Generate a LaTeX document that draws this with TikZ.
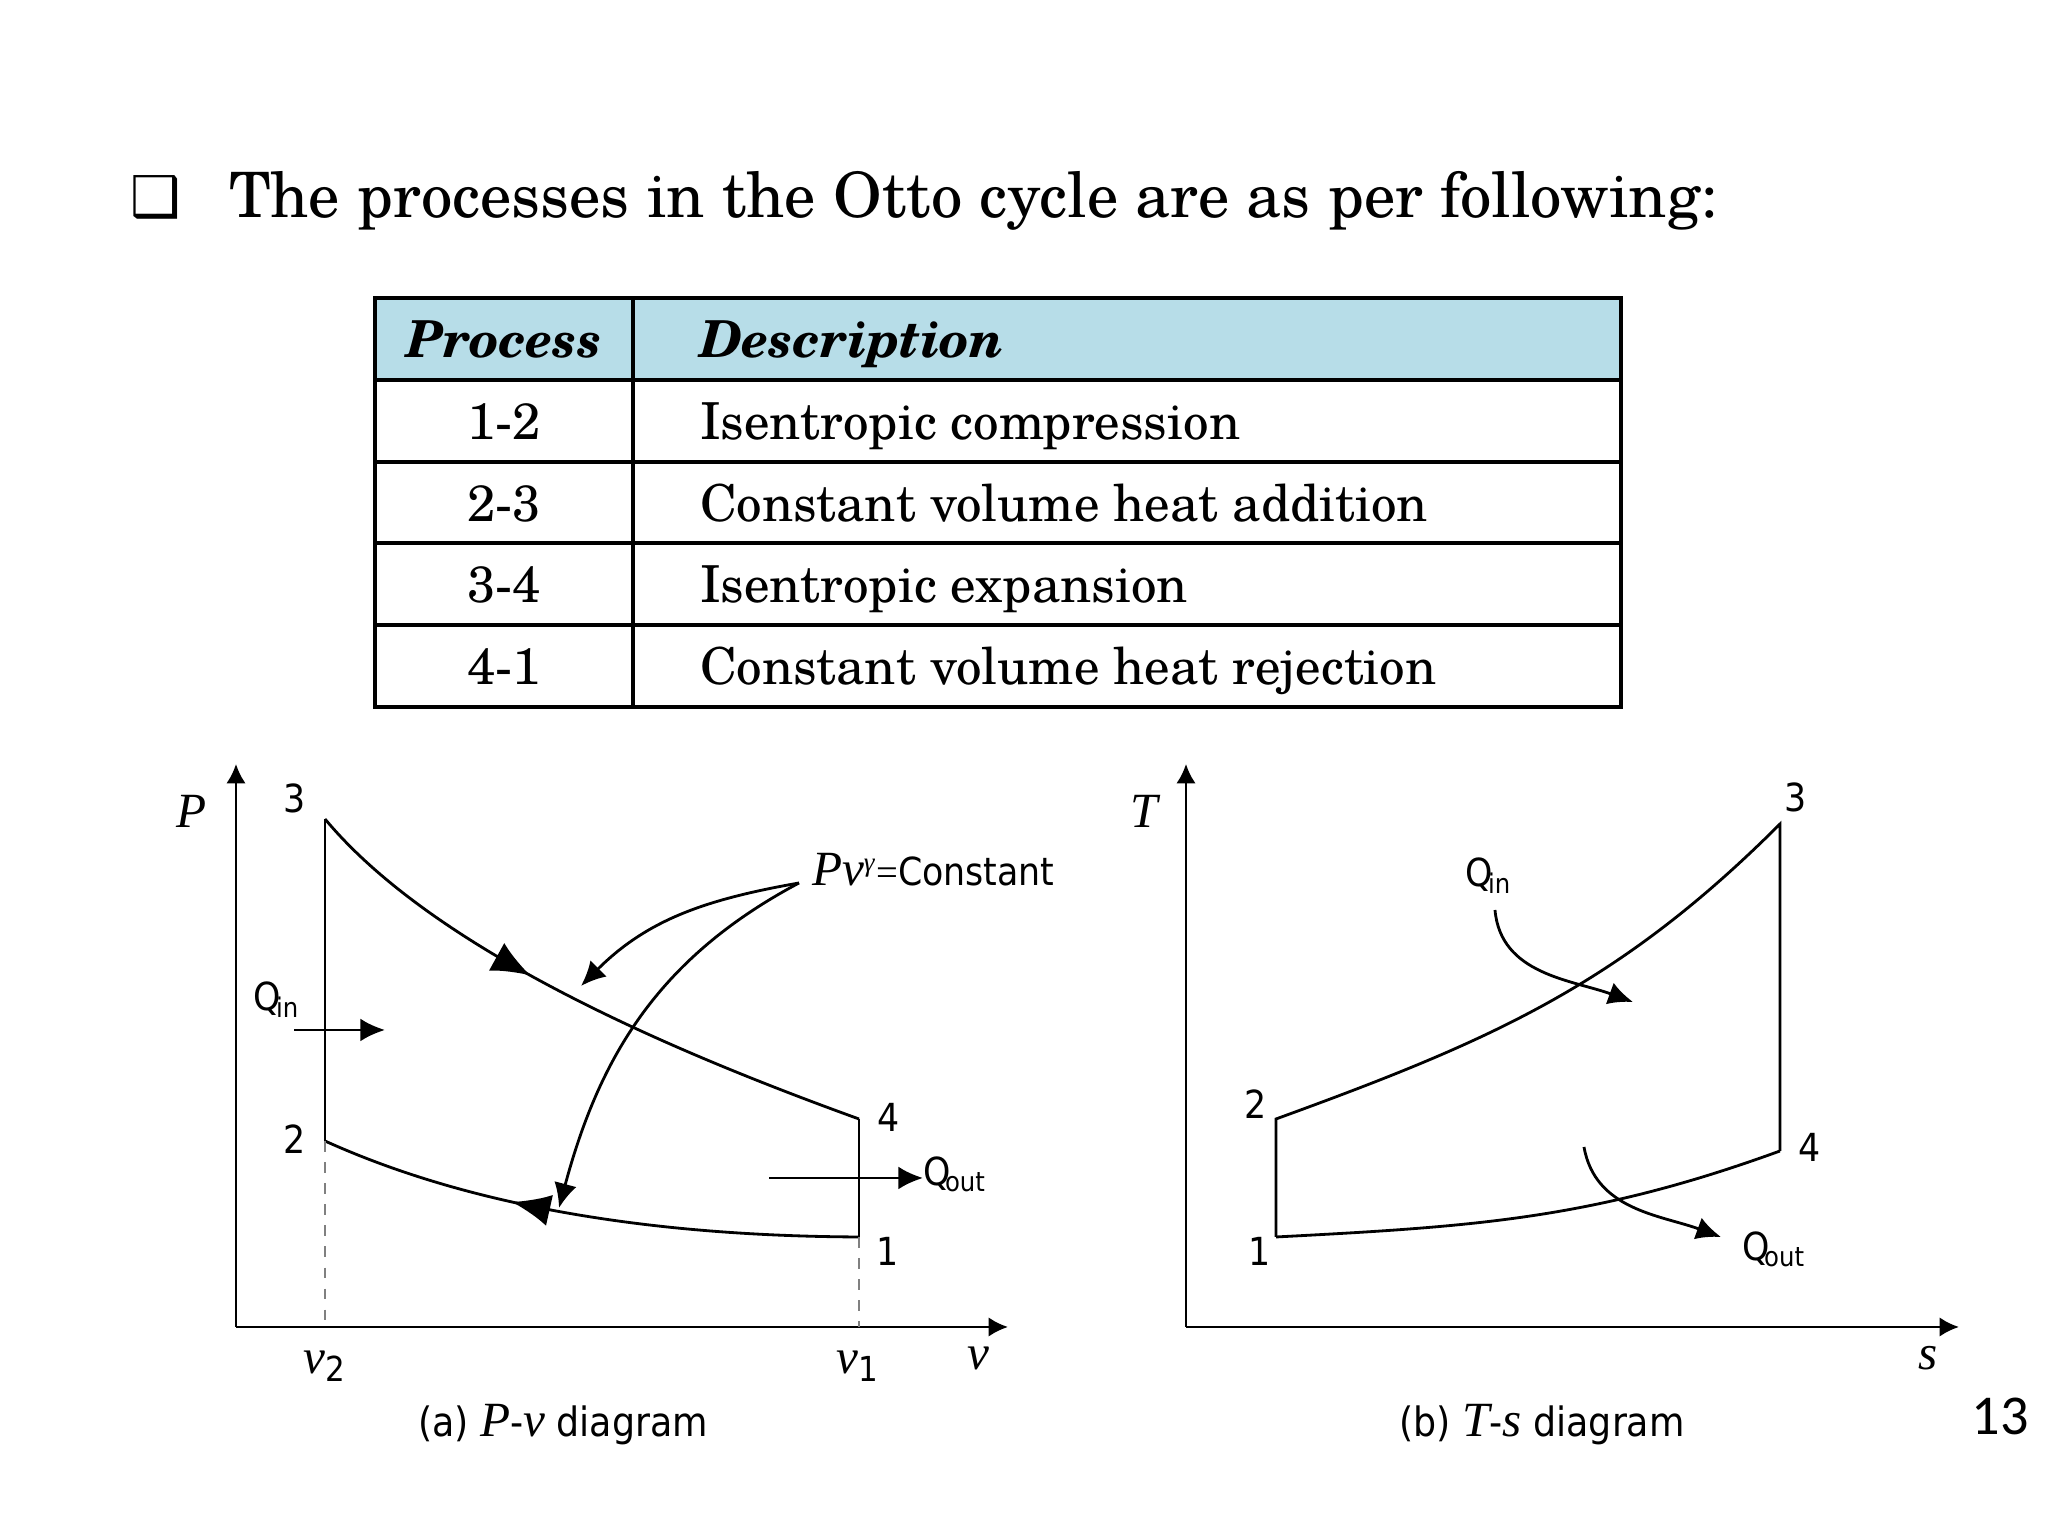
\documentclass[tikz,border=0pt]{standalone}
\usepackage{fontspec}
\setmainfont{TeX Gyre Schola}
\newfontfamily\labelfont{DejaVu Sans Condensed}
\newfontfamily\varfont{Liberation Serif}
\newfontfamily\pagefont{Carlito}
\newfontfamily\boxfont{DejaVu Sans}
\usetikzlibrary{arrows.meta,decorations.markings}
\definecolor{headblue}{RGB}{183,221,232}
\newcommand{\itvar}[1]{{\varfont\itshape #1}}

\begin{document}
\begin{tikzpicture}[every node/.style={inner sep=0pt,outer sep=0pt},
    axis/.style={line width=0.75pt,-{Latex[length=5.5pt,width=5.5pt]}},
    cycle line/.style={line width=0.8pt},
    guide/.style={gray,dashed,line width=0.4pt},
    heat/.style={line width=0.8pt,-{Latex[length=7pt,width=6.5pt]}},
    flow/.style={postaction={decorate},decoration={markings,
        mark=at position #1 with {\arrow{Latex[length=11pt,width=9pt]}}}},
    state label/.style={font=\labelfont\fontsize{11}{13}\selectfont},
    var label/.style={font=\varfont\itshape\fontsize{14}{16}\selectfont},
    caption/.style={font=\labelfont\fontsize{11.5}{14}\selectfont},
    cell/.style={anchor=base,font=\fontsize{14.5}{17}\selectfont},
    cell head/.style={anchor=base,font=\bfseries\itshape\fontsize{14.5}{17}\selectfont}]

\fill[white] (0,0) rectangle (20.48,15.36);
\useasboundingbox (0,0) rectangle (20.48,15.36);

% heading
\node[anchor=base west,font=\boxfont\fontsize{16}{18}\selectfont] (bullet) at (1.30,13.19) {❑};
\node[anchor=base west,font=\fontsize{17.8}{20}\selectfont] (title) at (2.29,13.18)
    {The processes in the Otto cycle are as per following:};

% table
\fill[headblue] (3.75,11.56) rectangle (16.21,12.38);
\draw[line width=1pt] (3.75,8.29) rectangle (16.21,12.38);
\draw[line width=1pt] (6.33,8.29) -- (6.33,12.38);
\draw[line width=1pt] (3.75,11.56) -- (16.21,11.56);
\draw[line width=1pt] (3.75,10.74) -- (16.21,10.74);
\draw[line width=1pt] (3.75,9.93) -- (16.21,9.93);
\draw[line width=1pt] (3.75,9.11) -- (16.21,9.11);

\node[cell head] (hproc) at (5.04,11.78) {Process};
\node[cell head,anchor=base west] (hdesc) at (7.00,11.78) {Description};
\node[cell] (p12) at (5.04,10.96) {1-2};
\node[cell,anchor=base west] (d12) at (7.00,10.96) {Isentropic compression};
\node[cell] (p23) at (5.04,10.14) {2-3};
\node[cell,anchor=base west] (d23) at (7.00,10.14) {Constant volume heat addition};
\node[cell] (p34) at (5.04,9.33) {3-4};
\node[cell,anchor=base west] (d34) at (7.00,9.33) {Isentropic expansion};
\node[cell] (p41) at (5.04,8.51) {4-1};
\node[cell,anchor=base west] (d41) at (7.00,8.51) {Constant volume heat rejection};

% P-v diagram
\coordinate (o1) at (2.36,2.09);
\coordinate (ptop) at (2.36,7.72);
\coordinate (vend) at (10.08,2.09);
\coordinate (a1) at (8.59,2.99);
\coordinate (a2) at (3.25,3.95);
\coordinate (a3) at (3.25,7.17);
\coordinate (a4) at (8.59,4.17);
\draw[axis] (o1) -- (ptop);
\draw[axis] (o1) -- (vend);
\draw[cycle line] (a2) -- (a3);
\draw[cycle line,flow=0.42] (a3) .. controls (4.34,5.86) and (6.71,4.85) .. (a4);
\draw[cycle line] (a4) -- (a1);
\draw[cycle line,flow=0.64] (a1) .. controls (6.39,3.00) and (4.62,3.33) .. (a2);
\draw[guide] (a2) -- (a2 |- o1);
\draw[guide] (a1) -- (a1 |- o1);

\node[state label] (n3a) at (2.95,7.38) {3};
\node[state label] (n2a) at (2.95,3.97) {2};
\node[state label] (n4a) at (8.89,4.19) {4};
\node[state label] (n1a) at (8.88,2.85) {1};
\node[var label] (pax) at (1.92,7.25) {P};
\node[var label] (vax) at (9.78,1.78) {v};
\node[var label] (v2) at (3.25,1.70) {v\textsubscript{\labelfont\upshape 2}};
\node[var label] (v1) at (8.58,1.70) {v\textsubscript{\labelfont\upshape 1}};

\node[state label] (qina) at (2.77,5.36) {Q\kern-1.5pt\textsubscript{in}};
\coordinate (qa) at (2.94,5.06);
\coordinate (qb) at (3.85,5.06);
\draw[heat] (qa) -- (qb);
\node[state label,anchor=west] (qouta) at (9.23,3.62) {Q\kern-1.5pt\textsubscript{out}};
\coordinate (qc) at (7.69,3.58);
\draw[heat] (qc) -- (qouta.west |- qc);

\node[state label,anchor=west] (pv) at (8.12,6.66)
    {\itvar{\fontsize{14}{16}\selectfont Pv}\textsuperscript{\itvar{γ}}{\varfont=}Constant};
\coordinate (pvs) at (7.99,6.53);
\coordinate (e1) at (5.81,5.50);
\coordinate (e2) at (5.59,3.28);
\draw[heat] (pvs) to[out=190,in=45] (e1);
\draw[heat] (pvs) to[out=208,in=75] (e2);

\node[caption] (capa) at (5.63,1.11) {(a) \itvar{\fontsize{14}{16}\selectfont P}-\itvar{\fontsize{14}{16}\selectfont v} diagram};

% T-s diagram
\coordinate (o2) at (11.86,2.09);
\coordinate (ttop) at (11.86,7.72);
\coordinate (send) at (19.59,2.09);
\coordinate (b1) at (12.76,2.99);
\coordinate (b2) at (12.76,4.17);
\coordinate (b3) at (17.80,7.12);
\coordinate (b4) at (17.80,3.85);
\draw[axis] (o2) -- (ttop);
\draw[axis] (o2) -- (send);
\draw[cycle line] (b1) -- (b2) to[out=20,in=225] (b3) -- (b4);
\draw[cycle line] (b1) to[out=3,in=200] (b4);

\node[state label] (n3b) at (17.96,7.39) {3};
\node[state label] (n2b) at (12.56,4.32) {2};
\node[state label] (n4b) at (18.10,3.89) {4};
\node[state label] (n1b) at (12.60,2.85) {1};
\node[var label] (tax) at (11.44,7.25) {T};
\node[var label] (sax) at (19.28,1.78) {s};

\node[state label] (qinb) at (14.89,6.60) {Q\kern-1.5pt\textsubscript{in}};
\coordinate (qd) at (14.95,6.26);
\coordinate (qe) at (16.33,5.34);
\draw[heat] (qd) to[out=-85,in=160] (qe);
\node[state label] (qoutb) at (17.74,2.87) {Q\kern-1.5pt\textsubscript{out}};
\coordinate (qf) at (15.84,3.89);
\coordinate (qg) at (17.21,2.99);
\draw[heat] (qf) to[out=-80,in=160] (qg);

\node[caption] (capb) at (15.42,1.11) {(b) \itvar{\fontsize{14}{16}\selectfont T}-\itvar{\fontsize{14}{16}\selectfont s} diagram};

\node[font=\pagefont\fontsize{16}{18}\selectfont] (pg) at (20.00,1.20) {13};
\end{tikzpicture}
\end{document}
